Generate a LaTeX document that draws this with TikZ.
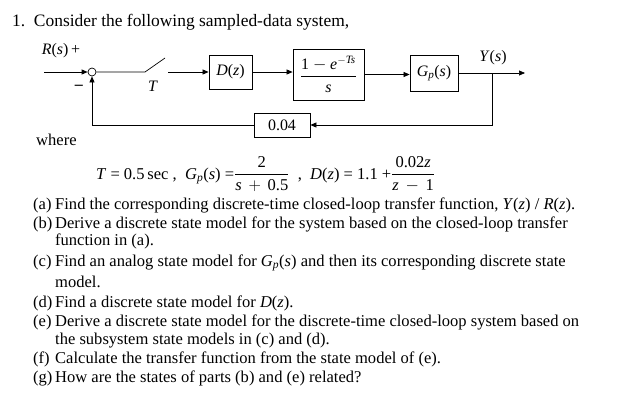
\documentclass[tikz,border=0pt]{standalone}
\usepackage{amsmath}
\usepackage{fontspec}
\setmainfont{Liberation Serif}
\usetikzlibrary{arrows.meta}
\newcommand{\itm}[1]{\makebox[22bp][l]{#1}}
\begin{document}
\begin{tikzpicture}[x=1bp,y=1bp,
  blk/.style={draw,line width=0.8pt,minimum height=34bp,inner sep=2pt,font=\fontsize{16}{18}\selectfont},
  ln/.style={anchor=base west,inner sep=0,font=\fontsize{16.6}{18}\selectfont},
  lbl/.style={inner sep=0,font=\fontsize{16}{18}\selectfont},
  arr/.style={-{Triangle[length=6bp,width=5bp]},line width=0.7pt},
  wire/.style={line width=0.7pt}]
\useasboundingbox (0,0) rectangle (619,407);
% diagram
\node[draw,circle,minimum size=8bp,inner sep=0,line width=0.7pt] (sum) at (92,335) {};
\coordinate (in) at (44,335);
\coordinate (sw1) at (145,335);
\coordinate (sw2) at (165,349);
\coordinate (sw3) at (168,335);
\node[blk,minimum width=43bp] (D) at (230.5,335) {\textit{D}(\textit{z})};
\node[blk,minimum width=71bp,minimum height=51bp] (H) at (328.5,332.5) {$\dfrac{\text{1}-\textit{e}^{-\textit{Ts}}}{\textit{s}}$};
\node[blk,minimum width=48bp,minimum height=36bp] (G) at (434,334) {\textit{G\textsubscript{p}}(\textit{s})};
\node[blk,minimum width=56bp,minimum height=24bp] (K) at (282,282) {0.04};
\coordinate (out) at (525,334);
\coordinate (br) at (492,334);
\coordinate (brd) at (492,282);
\coordinate (fb) at (92,282);
\draw[arr] (in) -- (sum.west);
\draw[wire] (sum.east) -- (sw1) -- (sw2);
\draw[arr] (sw3) -- (D.west);
\draw[arr] (D.east) -- (D.east -| H.west);
\draw[arr] (H.east) -- (H.east -| G.west);
\draw[arr] (G.east) -- (out);
\draw[arr] (br) -- (brd) -- (K.east);
\draw[arr] (K.west) -- (fb) -- (sum.south);
\node[lbl] (R) at (61,356) {\textit{R}(\textit{s})\,+};
\node[lbl] (m) at (79,320) {\textbf{--}};
\node[lbl] (T) at (153,321) {\textit{T}};
\node[lbl] (Y) at (493,349) {\textit{Y}(\textit{s})};
% text
\node[ln,font=\fontsize{17.5}{18}\selectfont] (t0) at (12,381) {1.\ \ Consider the following sampled-data system,};
\node[ln] (w) at (36,262) {where};
\node[ln] (eq) at (96,228) {\textit{T} = 0.5\,sec ,\ \ \textit{G\textsubscript{p}}(\textit{s}) =$\dfrac{\text{2}}{\textit{s}\,+\,\text{0.5}}$\ \ ,\ \ \textit{D}(\textit{z}) = 1.1 +$\dfrac{\text{0.02\textit{z}}}{\textit{z}\,-\,\text{1}}$};
\node[ln] (a) at (33,198) {\itm{(a)}Find the corresponding discrete-time closed-loop transfer function, \textit{Y}(\textit{z}) / \textit{R}(\textit{z}).};
\node[ln] (b) at (33,179) {\itm{(b)}Derive a discrete state model for the system based on the closed-loop transfer};
\node[ln] (b2) at (55,162) {function in (a).};
\node[ln] (c) at (33,141) {\itm{(c)}Find an analog state model for \textit{G\textsubscript{p}}(\textit{s}) and then its corresponding discrete state};
\node[ln] (c2) at (55,120) {model.};
\node[ln] (d) at (33,100) {\itm{(d)}Find a discrete state model for \textit{D}(\textit{z}).};
\node[ln] (e) at (33,81) {\itm{(e)}Derive a discrete state model for the discrete-time closed-loop system based on};
\node[ln] (e2) at (55,63) {the subsystem state models in (c) and (d).};
\node[ln] (f) at (33,44) {\itm{(f)}Calculate the transfer function from the state model of (e).};
\node[ln] (g) at (33,25) {\itm{(g)}How are the states of parts (b) and (e) related?};
\end{tikzpicture}
\end{document}
